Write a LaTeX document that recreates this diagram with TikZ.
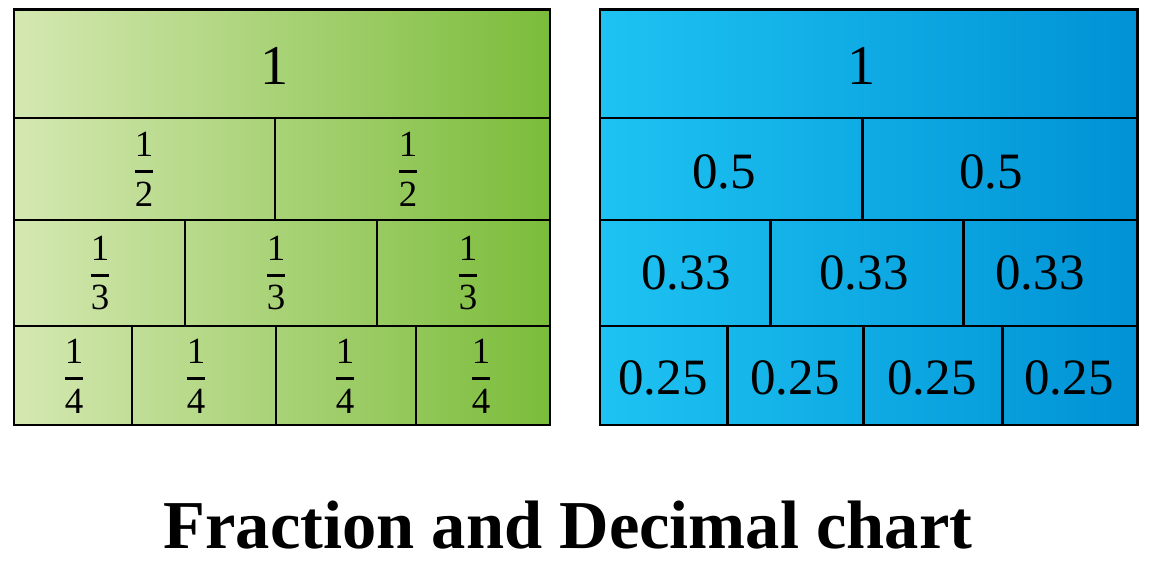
\documentclass[tikz,border=0pt]{standalone}
\usepackage{fontspec}
\usepackage{amsmath}
\setmainfont{Liberation Serif}
\definecolor{gL}{HTML}{D5E8B2}
\definecolor{gR}{HTML}{7BBC3A}
\definecolor{bL}{HTML}{1EC3F2}
\definecolor{bR}{HTML}{0092D5}
\newcommand{\fr}[1]{$\genfrac{}{}{1.6pt}{0}{\mbox{1}}{\mbox{#1}}$}
\tikzset{
  cell/.style={font=\fontsize{21}{21}\selectfont},
  dec/.style={font=\fontsize{29}{29}\selectfont},
  one/.style={font=\fontsize{32}{32}\selectfont},
  edge/.style={line width=1.7pt}
}
\begin{document}
\begin{tikzpicture}[x=0.02cm,y=-0.02cm]
	\useasboundingbox (0,0) rectangle (1150,563);
	% green chart
	\shade[left color=gL,right color=gR] (14,10) rectangle (550,425);
	\draw[edge] (14,10) rectangle (550,425);
	\foreach \y in {118,220,326} \draw[edge] (14,\y) -- (550,\y);
	\draw[edge] (275,118) -- (275,220);
	\foreach \x in {185,377} \draw[edge] (\x,220) -- (\x,326);
	\foreach \x in {132,276,416} \draw[edge] (\x,326) -- (\x,425);
	\node[one] (g1) at (275,66) {1};
	\node[cell] (g21) at (144,169) {\fr{2}};
	\node[cell] (g22) at (408,169) {\fr{2}};
	\node[cell] (g31) at (100,273) {\fr{3}};
	\node[cell] (g32) at (276,273) {\fr{3}};
	\node[cell] (g33) at (468,273) {\fr{3}};
	\node[cell] (g41) at (74,376) {\fr{4}};
	\node[cell] (g42) at (196,376) {\fr{4}};
	\node[cell] (g43) at (345,376) {\fr{4}};
	\node[cell] (g44) at (481,376) {\fr{4}};
	% blue chart
	\shade[left color=bL,right color=bR] (600,10) rectangle (1137,425);
	\draw[edge] (600,10) rectangle (1137,425);
	\foreach \y in {118,220,326} \draw[edge] (600,\y) -- (1137,\y);
	\draw[edge] (862,118) -- (862,220);
	\foreach \x in {770,963} \draw[edge] (\x,220) -- (\x,326);
	\foreach \x in {727,863,1002} \draw[edge] (\x,326) -- (\x,425);
	\node[one] (b1) at (862,66) {1};
	\node[dec] (b21) at (724,172) {0.5};
	\node[dec] (b22) at (991,172) {0.5};
	\node[dec] (b31) at (686,273) {0.33};
	\node[dec] (b32) at (864,273) {0.33};
	\node[dec] (b33) at (1040,273) {0.33};
	\node[dec] (b41) at (663,378) {0.25};
	\node[dec] (b42) at (795,378) {0.25};
	\node[dec] (b43) at (932,378) {0.25};
	\node[dec] (b44) at (1069,378) {0.25};
	% title
	\node[font=\bfseries\fontsize{39}{39}\selectfont] (title) at (568,525) {Fraction and Decimal chart};
\end{tikzpicture}
\end{document}
